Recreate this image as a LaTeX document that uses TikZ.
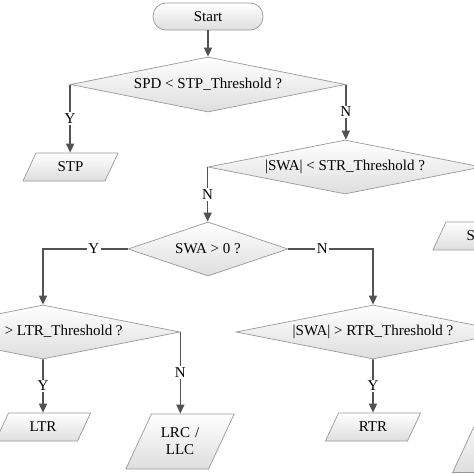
\documentclass[tikz,border=0pt]{standalone}
\usepackage{fontspec}
\setmainfont{Liberation Serif}
\usetikzlibrary{shapes.geometric, arrows.meta, positioning}

\tikzset{
  box/.style={draw=black!40, line width=0.7pt, top color=white, bottom color=black!13},
  startbox/.style={box, rounded corners=13pt, minimum width=110pt, minimum height=27pt},
  decision/.style={box, diamond, aspect=5, inner sep=0pt, minimum width=274pt, minimum height=54pt},
  slanted/.style={box, trapezium, trapezium left angle=65, trapezium right angle=115,
    align=center, inner xsep=0pt},
  io/.style={slanted, text width=69pt, text height=11pt, text depth=3pt, inner ysep=7pt},
  tallio/.style={slanted, text width=57pt, inner ysep=14pt},
  flow/.style={draw=black!68, line width=1.6pt, -{Triangle[length=9pt,width=8pt]}},
  yn/.style={fill=white, inner sep=1.5pt},
}

\begin{document}
\begin{tikzpicture}[x=1pt, y=-1pt, font=\fontsize{15}{17}\selectfont]
\useasboundingbox (0,0) rectangle (474,474);
\clip (0,0) rectangle (474,474);

% Nodes
\node[startbox] (start) at (208,16.5) {Start};
\node[decision, minimum width=275pt, minimum height=55pt] (spd) at (208,84.5) {SPD < STP\_Threshold ?};
\node[io] (stp) at (70.5,167) {STP};
\node[decision] (str) at (345,167) {|SWA| < STR\_Threshold ?};
\node[io] (strout) at (480.5,236) {STR};
\node[decision, aspect=3, minimum width=160pt] (swa) at (208,249) {SWA > 0 ?};
\node[decision] (ltr) at (43,332) {|SWA| > LTR\_Threshold ?};
\node[decision] (rtr) at (373,332) {|SWA| > RTR\_Threshold ?};
\node[io] (ltrout) at (43,427) {LTR};
\node[tallio] (lrc) at (180,441.5) {LRC /\\LLC};
\node[io] (rtrout) at (373,427) {RTR};
\node[tallio] (rrc) at (510,441.5) {\strut\\\strut};

% Connectors
\draw[flow] (start) -- (spd);
\draw[flow] (spd.west) -- node[yn] {Y} (spd.west |- stp.north);
\draw[flow] (spd.east) -- node[yn] {N} (spd.east |- str.north);
\draw[flow] (str.west) -- node[yn] {N} (str.west |- swa.north);
\draw[flow] (str.east) -- (str.east |- strout.north);
\draw[flow] (swa.west) -| node[yn, pos=0.2] {Y} (ltr.north);
\draw[flow] (swa.east) -| node[yn, pos=0.2] {N} (rtr.north);
\draw[flow] (ltr.south) -- node[yn] {Y} (ltrout.north);
\draw[flow] (ltr.east) -- node[yn] {N} (ltr.east |- lrc.north);
\draw[flow] (rtr.south) -- node[yn] {Y} (rtrout.north);
\draw[flow] (rtr.east) -- (rtr.east |- rrc.north);
\end{tikzpicture}
\end{document}
